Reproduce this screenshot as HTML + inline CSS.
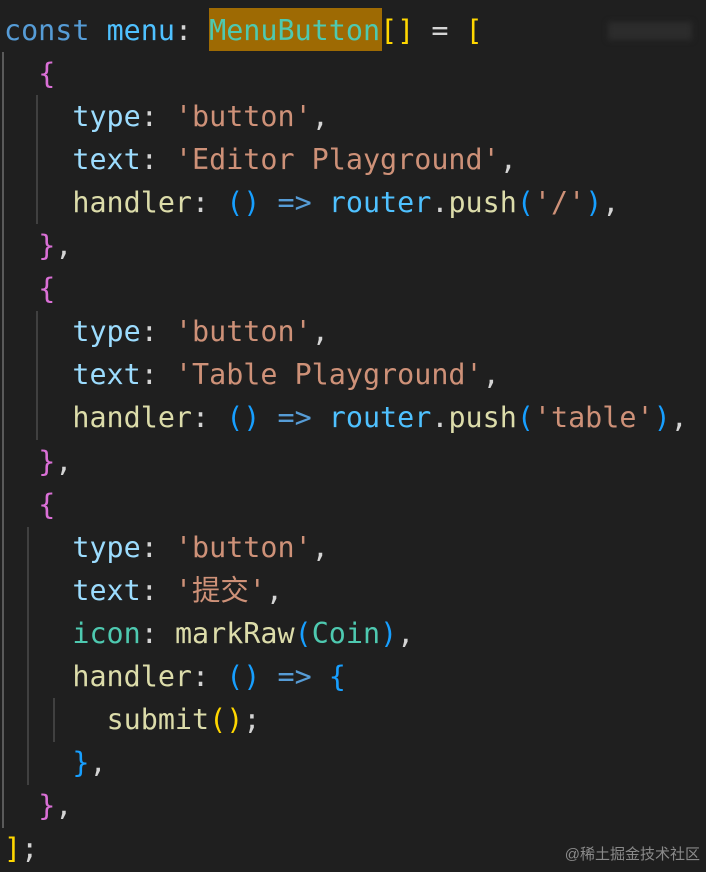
<!DOCTYPE html>
<html><head><meta charset="utf-8"><style>
html,body{margin:0;padding:0}
body{width:706px;height:872px;background:#1f1f1f;position:relative;overflow:hidden;
font-family:"DejaVu Sans Mono","Liberation Mono","Noto Sans CJK SC",monospace;font-size:28.4px;}
.l{position:absolute;left:4px;height:43.1px;line-height:43.1px;white-space:pre;color:#d4d4d4}
.k{color:#569cd6}.v{color:#4fc1ff}.t{color:#4ec9b0}.y{color:#ffd700}.p{color:#da70d6}.b{color:#179fff}
.pr{color:#9cdcfe}.s{color:#ce9178}.f{color:#dcdcaa}.o{color:#d4d4d4}
.g{position:absolute;width:2px;background:#404040}
.hl{position:absolute;left:209px;top:8px;width:173px;height:43px;background:#9e6a03}
.wm{position:absolute;right:6px;bottom:8px;font-family:"Liberation Sans","Noto Sans CJK SC",sans-serif;font-size:15px;color:#8a8a8a}
</style></head><body>
<div class="hl"></div>
<div style="position:absolute;left:608px;top:22px;width:84px;height:18px;background:#2c2c2c;filter:blur(3px)"></div>
<div class="g" style="left:2px;top:52px;height:776px;background:#5a5a5a"></div>
<div class="g" style="left:36px;top:95px;height:129px"></div>
<div class="g" style="left:36px;top:311px;height:129px"></div>
<div class="g" style="left:27px;top:527px;height:258px"></div>
<div class="g" style="left:53px;top:698px;height:44px"></div>
<div class="l" style="top:8.5px"><span class="k">const</span> <span class="v">menu</span><span class="o">:</span> <span class="t">MenuButton</span><span class="y">[]</span> <span class="o">=</span> <span class="y">[</span></div>
<div class="l" style="top:51.6px">  <span class="p">{</span></div>
<div class="l" style="top:94.7px">    <span class="pr">type</span>: <span class="s">'button'</span>,</div>
<div class="l" style="top:137.8px">    <span class="pr">text</span>: <span class="s">'Editor Playground'</span>,</div>
<div class="l" style="top:180.9px">    <span class="f">handler</span>: <span class="b">()</span> <span class="k">=&gt;</span> <span class="v">router</span>.<span class="f">push</span><span class="b">(</span><span class="s">'/'</span><span class="b">)</span>,</div>
<div class="l" style="top:224px">  <span class="p">}</span>,</div>
<div class="l" style="top:267.1px">  <span class="p">{</span></div>
<div class="l" style="top:310.2px">    <span class="pr">type</span>: <span class="s">'button'</span>,</div>
<div class="l" style="top:353.3px">    <span class="pr">text</span>: <span class="s">'Table Playground'</span>,</div>
<div class="l" style="top:396.4px">    <span class="f">handler</span>: <span class="b">()</span> <span class="k">=&gt;</span> <span class="v">router</span>.<span class="f">push</span><span class="b">(</span><span class="s">'table'</span><span class="b">)</span>,</div>
<div class="l" style="top:439.5px">  <span class="p">}</span>,</div>
<div class="l" style="top:482.6px">  <span class="p">{</span></div>
<div class="l" style="top:525.7px">    <span class="pr">type</span>: <span class="s">'button'</span>,</div>
<div class="l" style="top:568.8px">    <span class="pr">text</span>: <span class="s">'提交'</span>,</div>
<div class="l" style="top:611.9px">    <span class="pr" style="color:#4ec9b0">icon</span>: <span class="f">markRaw</span><span class="b">(</span><span class="t">Coin</span><span class="b">)</span>,</div>
<div class="l" style="top:655px">    <span class="f">handler</span>: <span class="b">()</span> <span class="k">=&gt;</span> <span class="b">{</span></div>
<div class="l" style="top:698.1px">      <span class="f">submit</span><span class="y">()</span>;</div>
<div class="l" style="top:741.2px">    <span class="b">}</span>,</div>
<div class="l" style="top:784.3px">  <span class="p">}</span>,</div>
<div class="l" style="top:827.4px"><span class="y">]</span>;</div>
<div class="wm">@稀土掘金技术社区</div>
</body></html>
